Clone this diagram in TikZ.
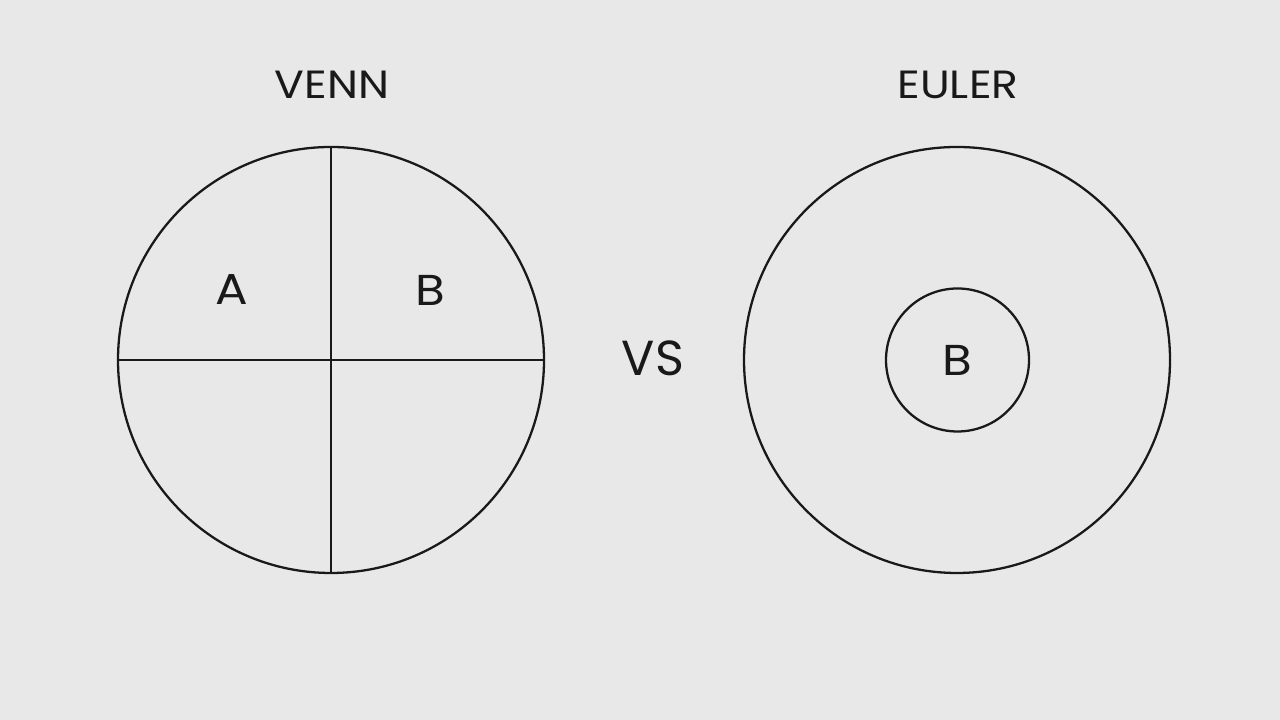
\documentclass[tikz,border=0pt]{standalone}
\usepackage{fontspec}
\setmainfont{Poppins}
\newfontfamily\widefont[FakeStretch=1.12]{Poppins}
\usepackage{xcolor}
\usetikzlibrary{positioning}
\definecolor{bgcolor}{RGB}{232,232,232}
\definecolor{inkcolor}{RGB}{25,25,25}

\begin{document}
\begin{tikzpicture}[
    trait/.style={draw=inkcolor, line width=0.65pt},
    titre/.style={font=\widefont\fontsize{11.2}{13}\selectfont, text=inkcolor},
    lettre/.style={font=\widefont\fontsize{12.3}{14}\selectfont, text=inkcolor}
  ]
    % Fond
    \fill[bgcolor] (0,0) rectangle (12.8,7.2);
    \useasboundingbox (0,0) rectangle (12.8,7.2);

    % === Diagramme de Venn ===
    \node[titre] (venn) at (3.32,6.35) {VENN};
    \node[circle, trait, minimum size=4.26cm, inner sep=0pt] (cvenn) at (3.31,3.6) {};
    \draw[trait] (cvenn.north) -- (cvenn.south);
    \draw[trait] (cvenn.west) -- (cvenn.east);
    \node[lettre] (la) at (2.32,4.3) {A};
    \node[lettre] (lb) at (4.30,4.3) {B};

    % VS
    \node[font=\fontsize{14}{16}\selectfont, text=inkcolor] (vs) at (6.53,3.62) {VS};

    % === Diagramme d'Euler ===
    \node[titre] (euler) at (9.58,6.35) {EULER};
    \node[circle, trait, minimum size=4.26cm, inner sep=0pt] (ceuler) at (9.57,3.6) {};
    \node[circle, trait, minimum size=1.43cm, inner sep=0pt] (cb) at (9.575,3.6) {};
    \node[lettre] (lbe) at (cb) {B};
\end{tikzpicture}
\end{document}
